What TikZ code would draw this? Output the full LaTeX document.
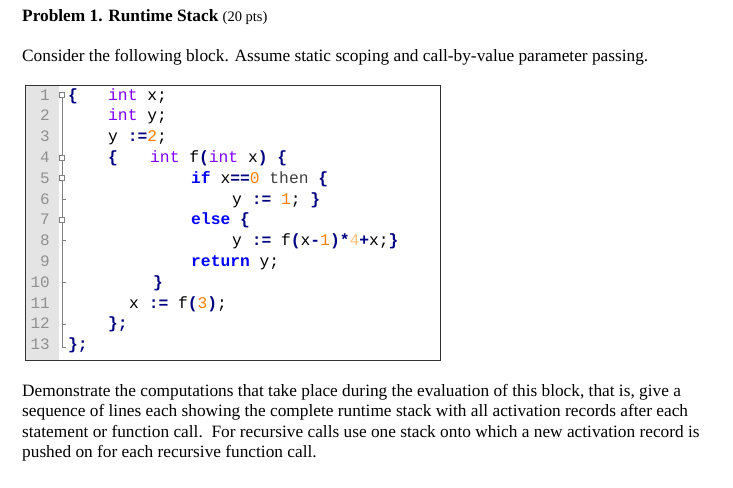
\documentclass[tikz,border=0pt]{standalone}
\usepackage{fontspec}
\setmainfont{Liberation Serif}
\newfontfamily\codef{Liberation Mono}
\definecolor{kwint}{HTML}{8000FF}
\definecolor{kwb}{HTML}{0000FF}
\definecolor{op}{HTML}{000080}
\definecolor{num}{HTML}{FF8000}
\definecolor{gut}{HTML}{E4E4E4}
\definecolor{lnum}{HTML}{909090}
\newcommand{\ki}[1]{\textcolor{kwint}{#1}}
\newcommand{\kb}[1]{\textcolor{kwb}{\bfseries #1}}
\newcommand{\ko}[1]{\textcolor{op}{\bfseries #1}}
\newcommand{\kn}[1]{\textcolor{num}{#1}}
\begin{document}
\begin{tikzpicture}[x=1pt,y=-1pt,
  txt/.style={anchor=base west,inner sep=0pt,font=\fontsize{17.3}{20}\selectfont},
  code/.style={anchor=base west,inner sep=0pt,font=\codef\fontsize{16.3}{18}\selectfont},
  ln/.style={anchor=base east,inner sep=0pt,text=lnum,font=\codef\fontsize{16}{18}\selectfont},
  fold/.style={draw=gray,fill=white,line width=0.5pt}]
\useasboundingbox (0,0) rectangle (733,487);
\node[txt] (title) at (22,22) {\textbf{Problem 1. Runtime Stack} {\fontsize{14.5}{16}\selectfont(20 pts)}};
\node[txt] (intro) at (22,61) {Consider the following block. Assume static scoping and call-by-value parameter passing.};
\fill[white] (25,85) rectangle (440,360);
\fill[gut] (25,85) rectangle (59,360);
\draw[line width=1pt,black!80] (25,85) rectangle (440,360);
\foreach \i in {1,...,13}{
  \node[ln] (n\i) at (50,{95+20.8*(\i-1)+5}) {\i};
}
\draw[gray,line width=0.5pt] (62,95) -- (62,347) -- (66,347);
\foreach \i in {6,8,10,12}{ \draw[gray,line width=0.5pt] (62,{95+20.8*(\i-1)}) -- (66,{95+20.8*(\i-1)}); }
\foreach \i in {1,4,5,7}{ \draw[fold] (59.5,{92.5+20.8*(\i-1)}) rectangle (64.5,{97.5+20.8*(\i-1)}); }
\def\yy#1{{95+20.8*(#1-1)+5}}
\node[code] (c1a) at (68,\yy{1}) {\ko{\{}};
\node[code] (c1) at (108,\yy{1}) {\ki{int} x;};
\node[code] (c2) at (108,\yy{2}) {\ki{int} y;};
\node[code] (c3) at (108,\yy{3}) {y \ko{:=}\kn{2};};
\node[code] (c4a) at (108,\yy{4}) {\ko{\{}};
\node[code] (c4) at (150,\yy{4}) {\ki{int} f\ko{(}\ki{int} x\ko{)} \ko{\{}};
\node[code] (c5) at (191,\yy{5}) {\kb{if} x\ko{==}\kn{0} \textcolor{black!75}{then} \ko{\{}};
\node[code] (c6) at (232,\yy{6}) {y \ko{:=} \kn{1}; \ko{\}}};
\node[code] (c7) at (191,\yy{7}) {\kb{else} \ko{\{}};
\node[code] (c8) at (232,\yy{8}) {y \ko{:=} f\ko{(}x\ko{-}\kn{1}\ko{)*}\textcolor{num!50}{4}\ko{+}x;\ko{\}}};
\node[code] (c9) at (191,\yy{9}) {\kb{return} y;};
\node[code] (c10) at (153,\yy{10}) {\ko{\}}};
\node[code] (c11) at (129,\yy{11}) {x \ko{:=} f\ko{(}\kn{3}\ko{)};};
\node[code] (c12) at (108,\yy{12}) {\ko{\};}};
\node[code] (c13) at (68,\yy{13}) {\ko{\};}};
\node[txt] (p1) at (22,396) {Demonstrate the computations that take place during the evaluation of this block, that is, give a};
\node[txt] (p2) at (22,416.5) {sequence of lines each showing the complete runtime stack with all activation records after each};
\node[txt] (p3) at (22,437) {statement or function call.\ \ For recursive calls use one stack onto which a new activation record is};
\node[txt] (p4) at (22,457.5) {pushed on for each recursive function call.};
\end{tikzpicture}
\end{document}
